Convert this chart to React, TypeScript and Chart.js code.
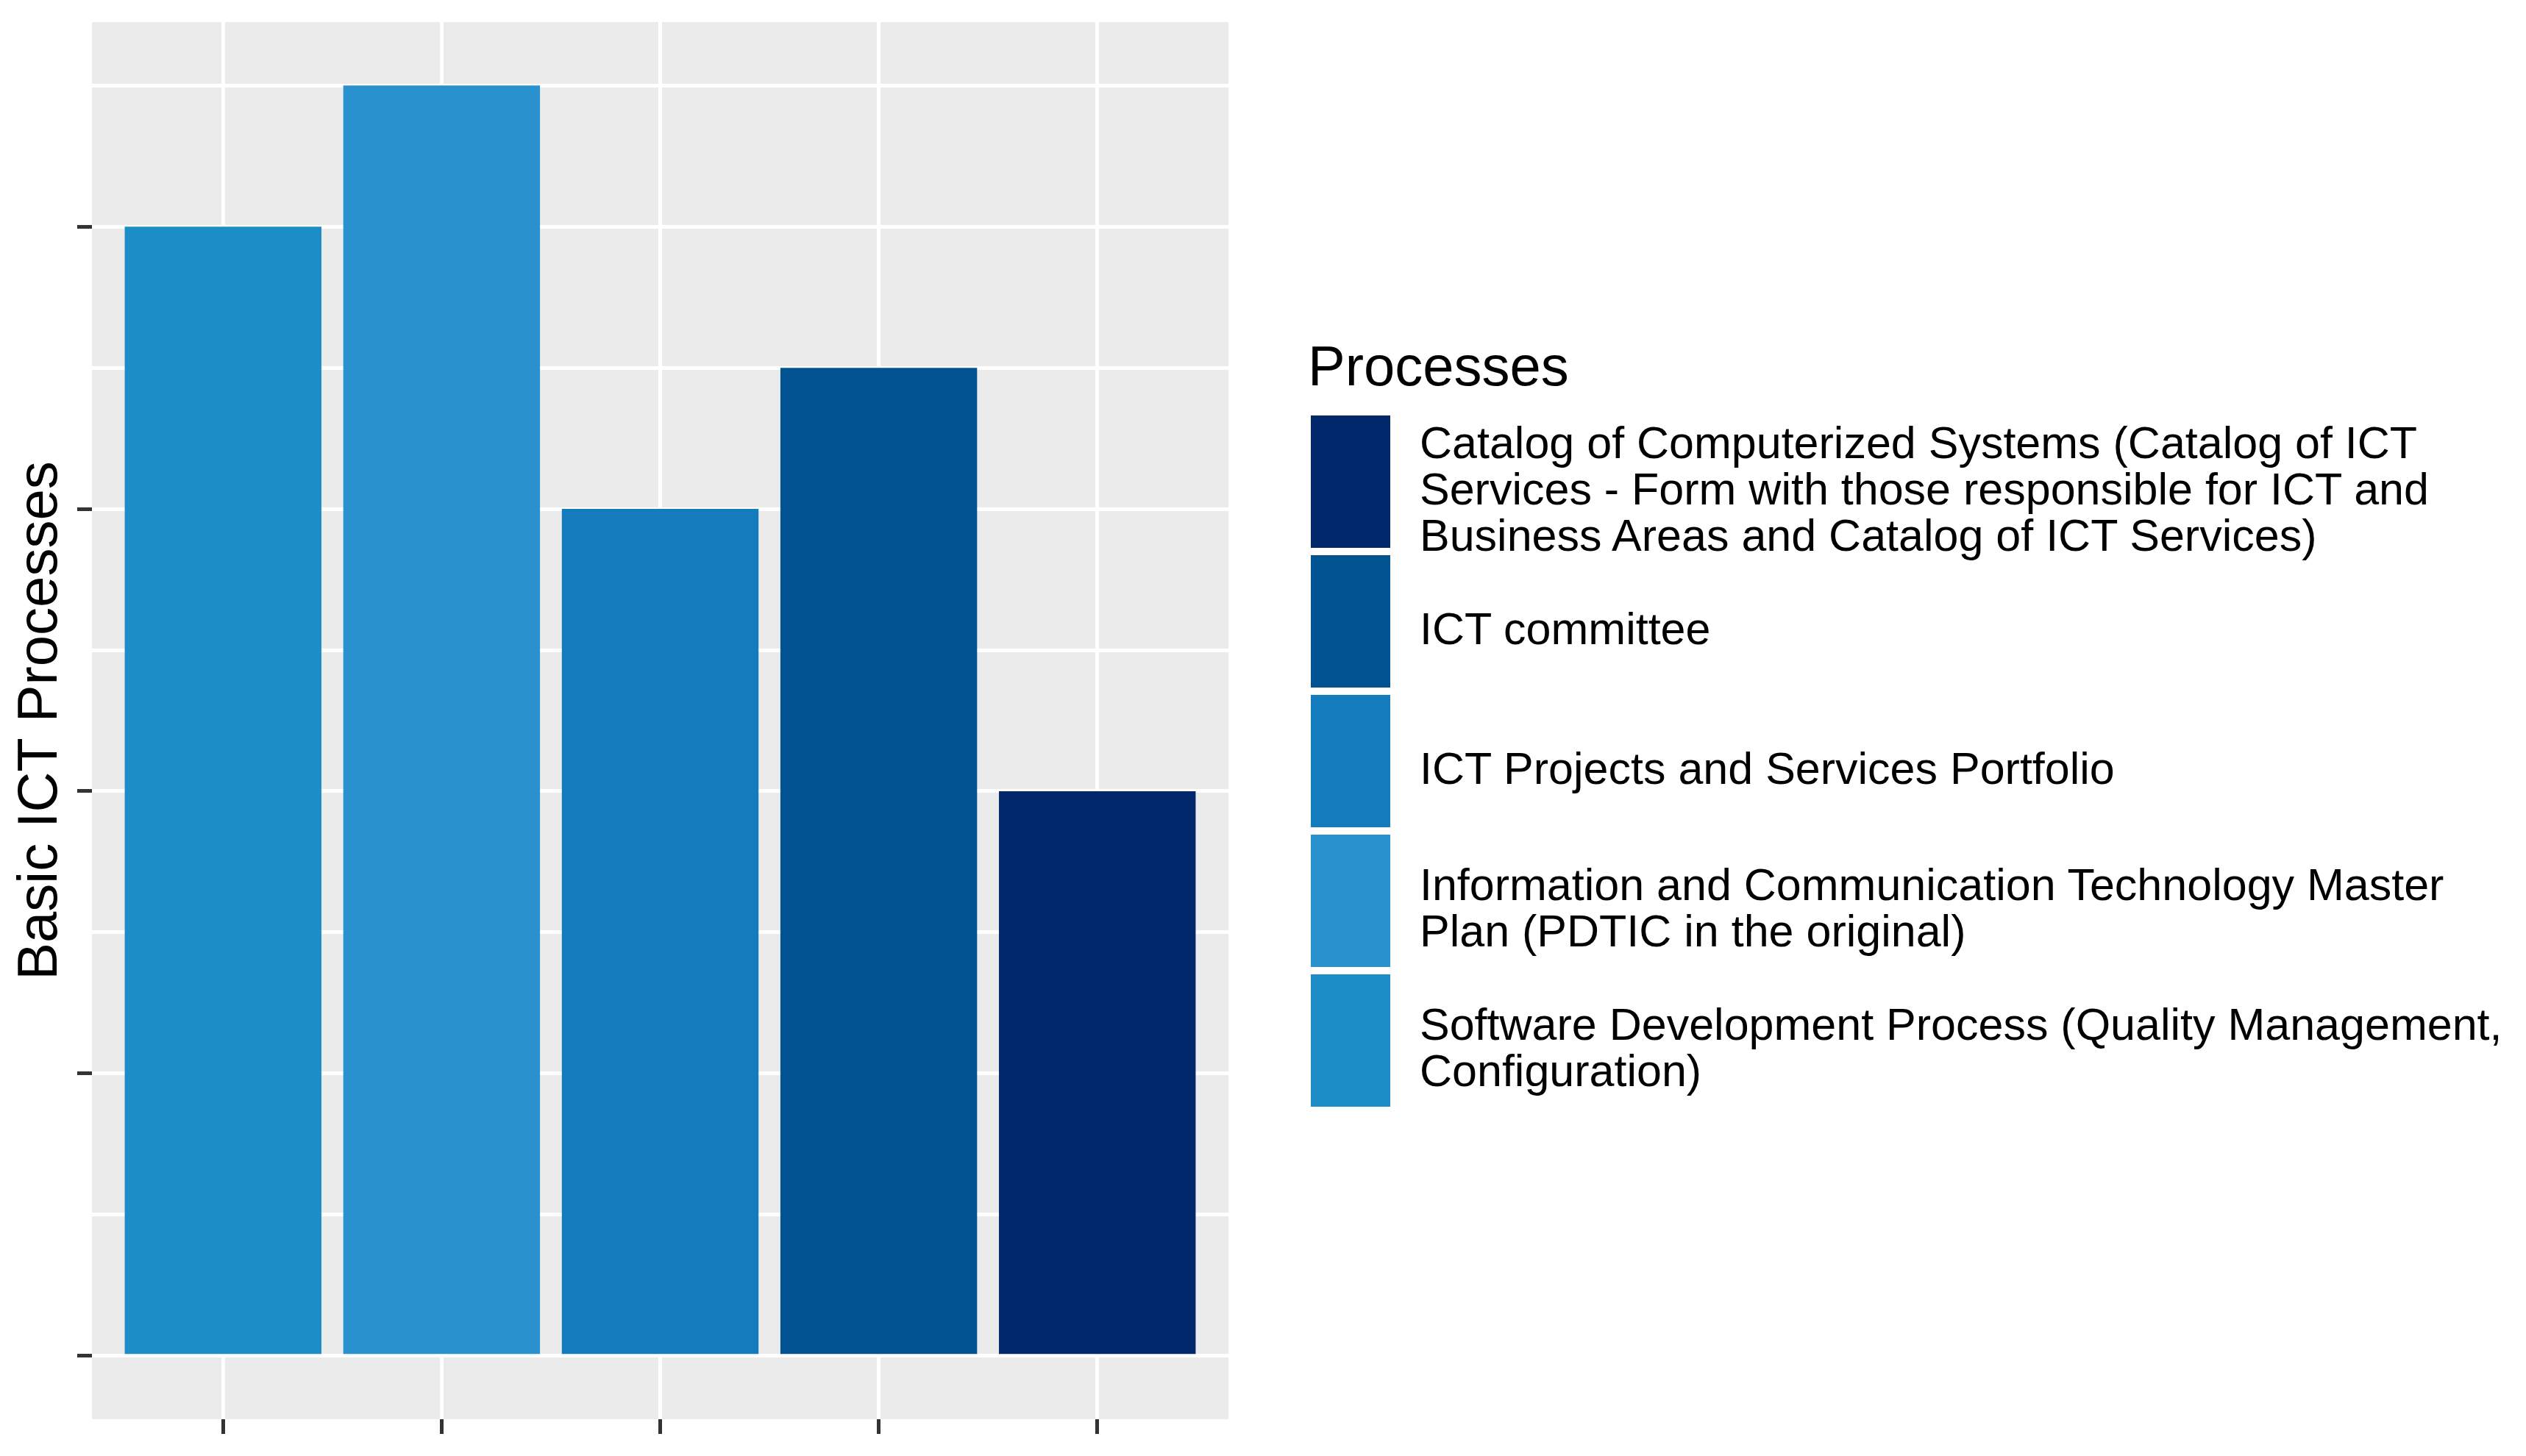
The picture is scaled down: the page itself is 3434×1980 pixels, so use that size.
import React, { useEffect, useRef } from "react";
import { Chart, registerables } from "chart.js";

Chart.register(...registerables);

// Legend entries (alphabetical, as in the reference legend), with the legend's line breaks
const legendLabels = [
  "Catalog of Computerized Systems (Catalog of ICT\nServices - Form with those responsible for ICT and\nBusiness Areas and Catalog of ICT Services)",
  "ICT committee",
  "ICT Projects and Services Portfolio",
  "Information and Communication Technology Master\nPlan (PDTIC in the original)",
  "Software Development Process (Quality Management,\nConfiguration)",
];
const legendColors = ["#01286A", "#025392", "#147CBD", "#2992CE", "#1D8DC7"];

// Bars, left to right: index into legendLabels, and value
const barOrder = [4, 3, 2, 1, 0];
const barValues = [8, 9, 6, 7, 4];

// Axis ticks (labels are not shown in the reference)
const yGridValues = [0, 1, 2, 3, 4, 5, 6, 7, 8, 9];
const yMajorTicks = [0, 2, 4, 6, 8];
const xTickValues = [1, 2, 3, 4, 5];

const yTitle = "Basic ICT Processes";
const legendTitle = "Processes";

const FONT = '"Liberation Sans", Arial, Helvetica, sans-serif';

const panelBg = {
  id: "panelBg",
  beforeDraw(chart: any) {
    const { ctx, chartArea } = chart;
    if (!chartArea) return;
    ctx.save();
    ctx.fillStyle = "#EBEBEB";
    ctx.fillRect(chartArea.left, chartArea.top, chartArea.right - chartArea.left, chartArea.bottom - chartArea.top);
    ctx.restore();
  },
};

export default function App() {
  const canvasRef = useRef<HTMLCanvasElement | null>(null);

  useEffect(() => {
    if (!canvasRef.current) return;
    const chart = new Chart(canvasRef.current, {
      type: "bar",
      data: {
        datasets: [
          {
            label: "Processes",
            data: barValues.map((v, i) => ({ x: xTickValues[i], y: v })) as any,
            backgroundColor: barOrder.map((i) => legendColors[i]),
            borderWidth: 0,
            barPercentage: 0.9,
            categoryPercentage: 1,
          },
        ],
      },
      options: {
        animation: false,
        responsive: false,
        devicePixelRatio: 1,
        layout: { padding: { top: 30, right: 30, left: 0, bottom: 0 } },
        plugins: {
          legend: { display: false },
          tooltip: { enabled: false },
        },
        scales: {
          x: {
            type: "linear",
            min: 0.4,
            max: 5.6,
            bounds: "data",
            offset: false,
            afterBuildTicks: (s: any) => {
              s.ticks = xTickValues.map((v) => ({ value: v }));
            },
            afterFit: (s: any) => {
              s.height = 50;
            },
            ticks: { display: false },
            grid: {
              offset: false,
              color: "#FFFFFF",
              lineWidth: 5,
              drawTicks: true,
              tickLength: 20,
              tickWidth: 5,
              tickColor: "#333333",
            },
            border: { display: false },
          },
          y: {
            type: "linear",
            min: -0.45,
            max: 9.45,
            bounds: "data",
            afterBuildTicks: (s: any) => {
              s.ticks = yGridValues.map((v) => ({ value: v }));
            },
            afterFit: (s: any) => {
              s.width = 125;
            },
            ticks: { display: false },
            grid: {
              color: "#FFFFFF",
              lineWidth: 5,
              drawTicks: true,
              tickLength: 20,
              tickWidth: 5,
              tickColor: (c: any) =>
                c.tick && yMajorTicks.includes(c.tick.value) ? "#333333" : "rgba(0,0,0,0)",
            },
            border: { display: false },
            title: {
              display: true,
              text: yTitle,
              color: "#000000",
              font: { family: FONT, size: 76, weight: "normal" },
              padding: { top: 10, bottom: 0 },
            },
          },
        },
      },
      plugins: [panelBg],
    } as any);
    return () => chart.destroy();
  }, []);

  return (
    <div
      style={{
        position: "absolute",
        left: 0,
        top: 0,
        width: 3434,
        height: 1980,
        background: "#FFFFFF",
        overflow: "hidden",
        fontFamily: FONT,
        color: "#000000",
      }}
    >
      <canvas
        ref={canvasRef}
        width={1700}
        height={1980}
        style={{ position: "absolute", left: 0, top: 0, width: 1700, height: 1980, display: "block" }}
      />
      <div
        style={{
          position: "absolute",
          left: 1778,
          top: 460,
          fontSize: 76,
          lineHeight: "76px",
          whiteSpace: "nowrap",
        }}
      >
        {legendTitle}
      </div>
      {legendLabels.map((label, i) => (
        <div
          key={i}
          style={{
            position: "absolute",
            left: 1782,
            top: 565 + i * 190,
            height: 180,
            display: "flex",
            alignItems: "center",
          }}
        >
          <div style={{ width: 108, height: 180, background: legendColors[i], flex: "0 0 auto" }} />
          <div
            style={{
              marginLeft: 40,
              fontSize: 61,
              lineHeight: "63px",
              whiteSpace: "pre",
              transform: "translateY(10px)",
            }}
          >
            {label}
          </div>
        </div>
      ))}
    </div>
  );
}
